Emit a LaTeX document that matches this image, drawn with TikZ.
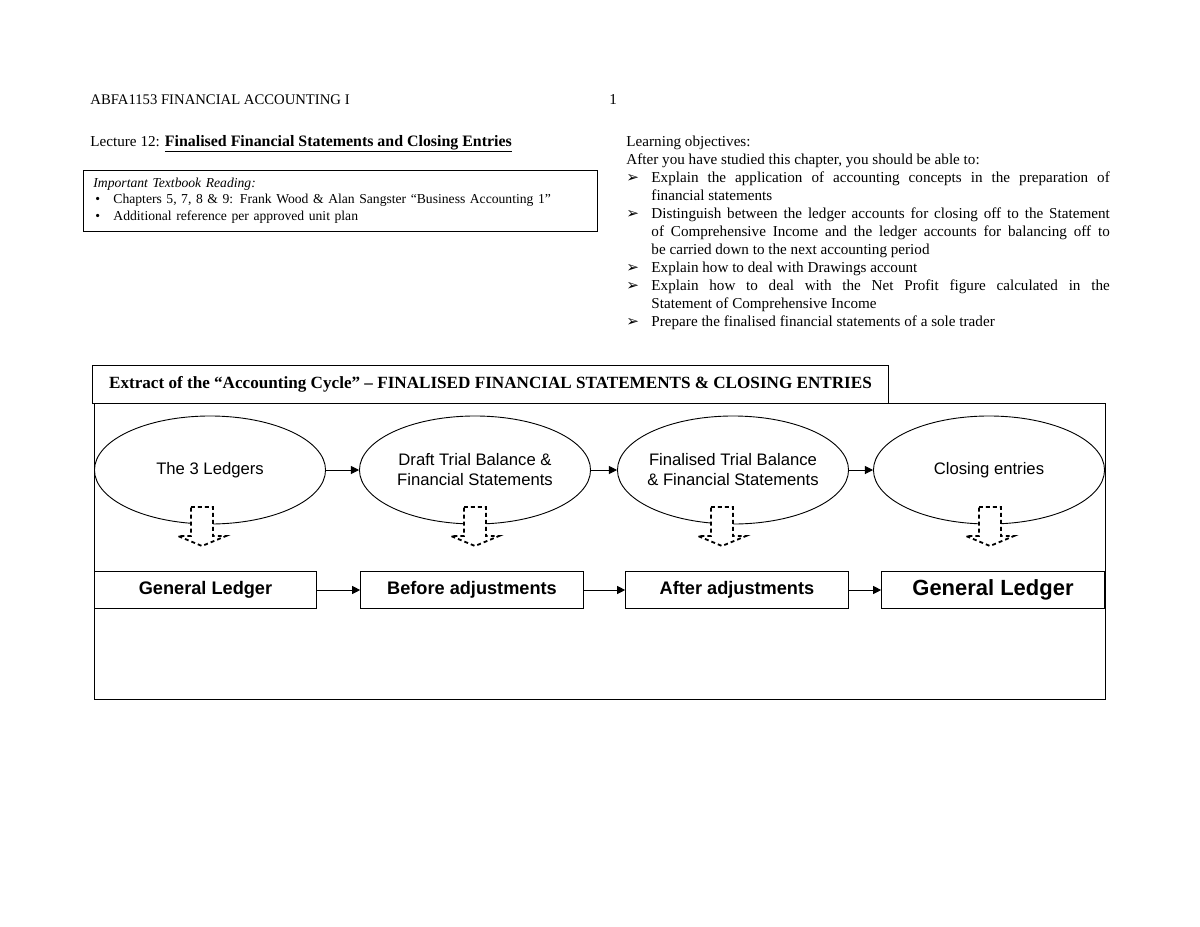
\documentclass[tikz,border=0pt]{standalone}
\usepackage{fontspec}
\setmainfont{Liberation Serif}
\setsansfont{Liberation Sans}
\newfontfamily\symbfont{DejaVu Sans}
\usetikzlibrary{arrows.meta,shapes.geometric}

\newcommand{\objitem}[1]{\par\hangindent=16.5pt\hangafter=1\noindent\makebox[16.5pt][l]{\symbfont\fontsize{10}{10}\selectfont ➢}#1}
\newcommand{\readitem}[1]{\par\noindent\hspace*{1.3pt}\makebox[11.9pt][l]{•}#1}

\tikzset{
    stage/.style={draw,ellipse,minimum width=152.5pt,minimum height=71.3pt,inner xsep=-12pt,inner ysep=0pt,align=center,font=\sffamily\fontsize{11}{13.2}\selectfont},
    ledger/.style={draw,rectangle,minimum width=147pt,minimum height=25pt,inner sep=0pt,font=\sffamily\bfseries\fontsize{12}{14}\selectfont},
    flow/.style={-{Triangle[length=5.3pt,width=5.3pt]},line width=0.6pt},
    hollow/.style={draw,fill=white,line width=1.2pt,dash pattern=on 2.6pt off 2pt},
    plain/.style={inner sep=0pt,font=\fontsize{10}{11.9}\selectfont}
}

\begin{document}
\begin{tikzpicture}[x=0.66pt,y=-0.66pt,line width=0.6pt]
    \useasboundingbox (0,0) rectangle (1200,927);
    \node[plain,anchor=base west,font=\fontsize{9.7}{11.9}\selectfont] (course) at (90,104) {ABFA1153 FINANCIAL ACCOUNTING I};
    \node[plain,anchor=base west] (page) at (609,104) {1};
    \node[plain,anchor=base west] (lecture) at (90,146) {Lecture 12: {\fontsize{10.5}{12}\selectfont\textbf{\underline{Finalised Financial Statements and Closing Entries}}}};
    \node[draw,anchor=north west,minimum width=339.2pt,minimum height=40.3pt,inner sep=0pt] (reading) at (83,170) {};
    \node[plain,anchor=base west,text width=326pt,font=\fontsize{9}{11.2}\selectfont] (readtext) at (93,187) {%
        \noindent{\itshape Important Textbook Reading:}
        \readitem{Chapters 5, 7, 8 \& 9: Frank Wood \& Alan Sangster “Business Accounting 1”}
        \readitem{Additional reference per approved unit plan}};
    \node[plain,anchor=base west,text width=319pt,align=justify] (objectives) at (626,146) {%
        \noindent Learning objectives:\par
        \noindent After you have studied this chapter, you should be able to:
        \objitem{Explain the application of accounting concepts in the preparation of\linebreak financial statements}
        \objitem{Distinguish between the ledger accounts for closing off to the Statement\linebreak of Comprehensive Income and the ledger accounts for balancing off to\linebreak be carried down to the next accounting period}
        \objitem{Explain how to deal with Drawings account}
        \objitem{Explain how to deal with the Net Profit figure calculated in the\linebreak Statement of Comprehensive Income}
        \objitem{Prepare the finalised financial statements of a sole trader}};

    \node[draw,anchor=north west,minimum width=667.3pt,minimum height=195.4pt,inner sep=0pt] (frame) at (94,403) {};
    \node[draw,fill=white,anchor=north west,minimum width=525.4pt,minimum height=25.1pt,inner sep=0pt,font=\bfseries\fontsize{11.3}{13}\selectfont] (extract) at (92,365) {Extract of the “Accounting Cycle” – FINALISED FINANCIAL STATEMENTS \& CLOSING ENTRIES};

    \node[stage] (ledgers) at (210,470) {The 3 Ledgers};
    \node[stage] (draft) at (475,470) {Draft Trial Balance \&\\Financial Statements};
    \node[stage] (final) at (733,470) {Finalised Trial Balance\\\& Financial Statements};
    \node[stage] (closing) at (989,470) {Closing entries};
    \node[ledger] (gl) at (205.5,590) {General Ledger};
    \node[ledger] (before) at (472,590) {Before adjustments};
    \node[ledger] (after) at (737,590) {After adjustments};
    \node[ledger,font=\sffamily\bfseries\fontsize{14.5}{16}\selectfont] (glclose) at (993,590) {General Ledger};

    \draw[flow] (ledgers) -- (draft);
    \draw[flow] (draft) -- (final);
    \draw[flow] (final) -- (closing);
    \draw[flow] (gl) -- (before);
    \draw[flow] (before) -- (after);
    \draw[flow] (after) -- (glclose);

    \foreach \x in {202,475,722,990}
        \draw[hollow] (\x-11,507) -- (\x+11,507) -- (\x+11,536) -- (\x+24,536) -- (\x,546) -- (\x-24,536) -- (\x-11,536) -- cycle;
\end{tikzpicture}
\end{document}
